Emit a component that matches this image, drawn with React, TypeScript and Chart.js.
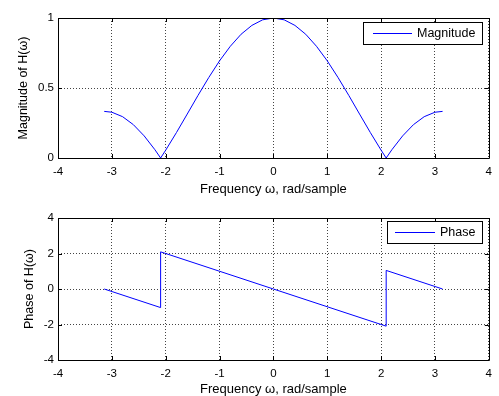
import React, { useEffect, useRef } from "react";
import { Chart, registerables } from "chart.js";

Chart.register(...registerables);

const omegaMag = [-3.1416, -3.0, -2.8, -2.6, -2.4, -2.2, -2.0944, -2.0, -1.8, -1.6, -1.4, -1.2, -1.0, -0.8, -0.6, -0.4, -0.2, 0, 0.2, 0.4, 0.6, 0.8, 1.0, 1.2, 1.4, 1.6, 1.8, 2.0, 2.0944, 2.2, 2.4, 2.6, 2.8, 3.0, 3.1416];
const magnitude = [0.333, 0.327, 0.295, 0.238, 0.158, 0.059, 0.0, 0.056, 0.182, 0.314, 0.447, 0.575, 0.694, 0.798, 0.884, 0.947, 0.987, 1.0, 0.987, 0.947, 0.884, 0.798, 0.694, 0.575, 0.447, 0.314, 0.182, 0.056, 0.0, 0.059, 0.158, 0.238, 0.295, 0.327, 0.333];

const omegaPhase = [-3.1416, -2.0944, -2.0944, 0, 2.0944, 2.0944, 3.1416];
const phase = [0.0, -1.047, 2.094, 0.0, -2.094, 1.047, 0.0];

const xTicks = [-4, -3, -2, -1, 0, 1, 2, 3, 4];
const magTicks = [0, 0.5, 1];
const phaseTicks = [-4, -2, 0, 2, 4];

const FONT = "'Liberation Sans', Arial, sans-serif";

type Cfg = {
  xs: number[];
  ys: number[];
  label: string;
  yTitle: string;
  yMin: number;
  yMax: number;
  yTicks: number[];
  padTop: number;
  xAxisH: number;
  titleBottomPad: number;
  yTitlePad: number;
  legend: { left: number; top: number; right: number; bottom: number; lineX0: number; lineX1: number; textX: number };
};

const framePlugin = {
  id: "frame",
  afterDraw(chart: any, _args: any, opts: any) {
    const { ctx, chartArea: a, scales } = chart;
    ctx.save();
    ctx.setLineDash([]);
    ctx.strokeStyle = "#000";
    ctx.lineWidth = 1;
    ctx.beginPath();
    ctx.rect(Math.round(a.left) + 0.5, Math.round(a.top) + 0.5, Math.round(a.right - a.left), Math.round(a.bottom - a.top));
    ctx.stroke();
    const tl = 4;
    ctx.beginPath();
    scales.x.ticks.forEach((t: any) => {
      const px = Math.round(scales.x.getPixelForValue(t.value)) + 0.5;
      ctx.moveTo(px, a.bottom);
      ctx.lineTo(px, a.bottom - tl);
      ctx.moveTo(px, a.top);
      ctx.lineTo(px, a.top + tl);
    });
    scales.y.ticks.forEach((t: any) => {
      const py = Math.round(scales.y.getPixelForValue(t.value)) + 0.5;
      ctx.moveTo(a.left, py);
      ctx.lineTo(a.left + tl, py);
      ctx.moveTo(a.right, py);
      ctx.lineTo(a.right - tl, py);
    });
    ctx.stroke();
    const L = opts.legend;
    if (L) {
      ctx.fillStyle = "#fff";
      ctx.fillRect(L.left, L.top, L.right - L.left, L.bottom - L.top);
      ctx.strokeStyle = "#000";
      ctx.strokeRect(L.left + 0.5, L.top + 0.5, L.right - L.left, L.bottom - L.top);
      const my = Math.round((L.top + L.bottom) / 2) + 0.5;
      ctx.strokeStyle = "#0000ff";
      ctx.beginPath();
      ctx.moveTo(L.lineX0, my);
      ctx.lineTo(L.lineX1, my);
      ctx.stroke();
      ctx.fillStyle = "#000";
      ctx.font = "12.5px " + FONT;
      ctx.textBaseline = "middle";
      ctx.textAlign = "left";
      ctx.fillText(chart.data.datasets[0].label, L.textX, my);
    }
    ctx.restore();
  },
};

function Subplot({ cfg, top }: { cfg: Cfg; top: number }) {
  const ref = useRef<HTMLCanvasElement>(null);
  useEffect(() => {
    if (!ref.current) return;
    const chart = new Chart(ref.current, {
      type: "line",
      data: {
        datasets: [
          {
            label: cfg.label,
            data: cfg.xs.map((x, i) => ({ x, y: cfg.ys[i] })),
            borderColor: "#0000ff",
            borderWidth: 1,
            pointRadius: 0,
            tension: 0,
            fill: false,
          },
        ],
      },
      options: {
        animation: false,
        responsive: false,
        layout: { padding: { top: cfg.padTop, right: 8, left: 0, bottom: 0 } },
        plugins: {
          legend: { display: false },
          tooltip: { enabled: false },
          frame: { legend: cfg.legend },
        } as any,
        scales: {
          x: {
            type: "linear",
            min: -4,
            max: 4,
            afterBuildTicks: (s: any) => {
              s.ticks = xTicks.map((v) => ({ value: v }));
            },
            afterFit: (s: any) => {
              s.height = cfg.xAxisH;
            },
            ticks: { color: "#000", font: { size: 11.5, family: FONT }, padding: 7, maxRotation: 0, callback: (v: any) => String(v) },
            grid: { color: "#444", drawTicks: false, lineWidth: 1 },
            border: { display: false, dash: [1, 2] },
            title: { display: true, text: "Frequency \u03c9, rad/sample", color: "#000", font: { size: 13, family: FONT }, padding: { top: 0, bottom: cfg.titleBottomPad } },
          },
          y: {
            type: "linear",
            min: cfg.yMin,
            max: cfg.yMax,
            afterBuildTicks: (s: any) => {
              s.ticks = cfg.yTicks.map((v) => ({ value: v }));
            },
            afterFit: (s: any) => {
              s.width = 58;
            },
            ticks: { color: "#000", font: { size: 11.5, family: FONT }, padding: 4, callback: (v: any) => String(v) },
            grid: { color: "#444", drawTicks: false, lineWidth: 1 },
            border: { display: false, dash: [1, 2] },
            title: { display: true, text: cfg.yTitle, color: "#000", font: { size: 12.5, family: FONT }, padding: { top: cfg.yTitlePad, bottom: 0 } },
          },
        },
      },
      plugins: [framePlugin],
    } as any);
    return () => chart.destroy();
  }, []);
  return <canvas ref={ref} width={499} height={198} style={{ position: "absolute", left: 0, top, width: 499, height: 198 }} />;
}

const topCfg: Cfg = {
  xs: omegaMag,
  ys: magnitude,
  label: "Magnitude",
  yTitle: "Magnitude of H(\u03c9)",
  yMin: 0,
  yMax: 1,
  yTicks: magTicks,
  padTop: 18,
  xAxisH: 40,
  titleBottomPad: 1,
  yTitlePad: 16,
  legend: { left: 363, top: 22, right: 482, bottom: 44, lineX0: 373, lineX1: 412, textX: 417 },
};

const botCfg: Cfg = {
  xs: omegaPhase,
  ys: phase,
  label: "Phase",
  yTitle: "Phase of H(\u03c9)",
  yMin: -4,
  yMax: 4,
  yTicks: phaseTicks,
  padTop: 20,
  xAxisH: 36,
  titleBottomPad: -1,
  yTitlePad: 22,
  legend: { left: 387, top: 23, right: 482, bottom: 45, lineX0: 395, lineX1: 435, textX: 440 },
};

export default function App() {
  return (
    <div style={{ position: "absolute", left: 0, top: 0, width: 499, height: 396, background: "#fff" }}>
      <Subplot cfg={topCfg} top={0} />
      <Subplot cfg={botCfg} top={198} />
    </div>
  );
}
